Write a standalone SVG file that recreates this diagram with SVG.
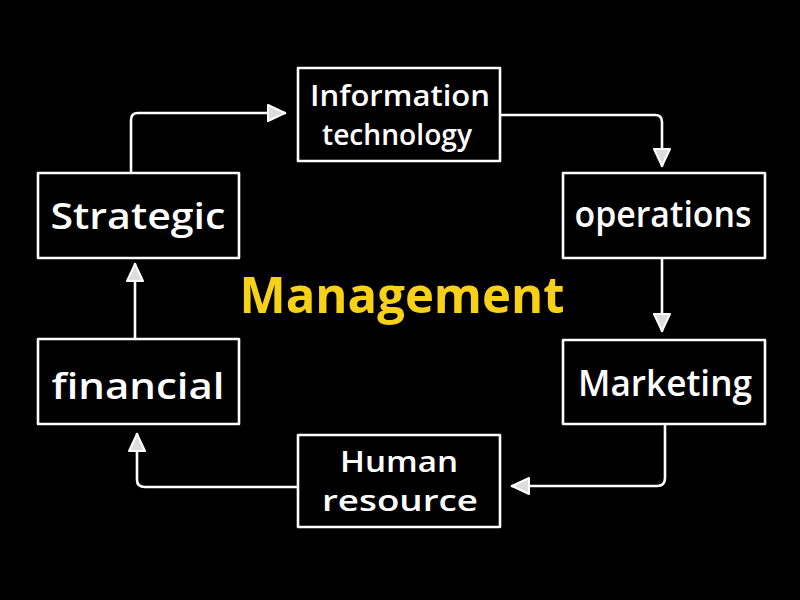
<svg xmlns="http://www.w3.org/2000/svg" width="800" height="600" viewBox="0 0 800 600">
<style>
.box{fill:#000;stroke:#fff;stroke-width:2.6;stroke-linejoin:round}
.lbl{fill:#fff;font-family:"Open Sans","Liberation Sans",sans-serif;font-weight:600;font-size:36px;text-anchor:middle}
.sm{font-size:29px}
.con{fill:none;stroke:#fff;stroke-width:2.6;stroke-linejoin:round;stroke-linecap:round}
.title{fill:#f7d117;font-family:"Open Sans","Liberation Sans",sans-serif;font-weight:700;font-size:50px;text-anchor:middle}
</style>
<defs>
<marker id="ah" viewBox="0 0 20 20" refX="19" refY="10" markerWidth="20" markerHeight="20" markerUnits="userSpaceOnUse" orient="auto">
<path d="M2,2 L19,10 L2,18 Z" fill="#ddd" stroke="#fff" stroke-width="2" stroke-linejoin="round"/>
</marker>
</defs>
<rect width="800" height="600" fill="#000"/>
<g id="connectors">
<path class="con" d="M131,173 V120 Q131,113 138,113 H285" marker-end="url(#ah)"/>
<path class="con" d="M500,115 H655 Q662,115 662,122 V166" marker-end="url(#ah)"/>
<path class="con" d="M662,258 V331" marker-end="url(#ah)"/>
<path class="con" d="M665,424 V478 Q665,486 657,486 H512" marker-end="url(#ah)"/>
<path class="con" d="M298,487 H145 Q137,487 137,480 V434" marker-end="url(#ah)"/>
<path class="con" d="M135,339 V264" marker-end="url(#ah)"/>
</g>
<g id="it"><rect class="box" x="298" y="68" width="202" height="93"/>
<text class="lbl sm" x="400" y="106" textLength="180" lengthAdjust="spacingAndGlyphs">Information</text>
<text class="lbl sm" x="397" y="145" textLength="150" lengthAdjust="spacingAndGlyphs">technology</text></g>
<g id="strategic"><rect class="box" x="38" y="173" width="201" height="85"/>
<text class="lbl" x="138" y="229" textLength="175" lengthAdjust="spacingAndGlyphs">Strategic</text></g>
<g id="operations"><rect class="box" x="563" y="173" width="202" height="85"/>
<text class="lbl" x="663" y="227" textLength="177" lengthAdjust="spacingAndGlyphs">operations</text></g>
<g id="financial"><rect class="box" x="38" y="339" width="201" height="85"/>
<text class="lbl" x="138" y="399" textLength="173" lengthAdjust="spacingAndGlyphs">financial</text></g>
<g id="marketing"><rect class="box" x="563" y="340" width="202" height="84"/>
<text class="lbl" x="665" y="396" textLength="174" lengthAdjust="spacingAndGlyphs">Marketing</text></g>
<g id="hr"><rect class="box" x="298" y="435" width="202" height="92"/>
<text class="lbl sm" x="399" y="472" textLength="118" lengthAdjust="spacingAndGlyphs">Human</text>
<text class="lbl sm" x="400" y="511" textLength="156" lengthAdjust="spacingAndGlyphs">resource</text></g>
<g id="management"><text class="title" x="402" y="313" textLength="325" lengthAdjust="spacingAndGlyphs">Management</text></g>
</svg>
